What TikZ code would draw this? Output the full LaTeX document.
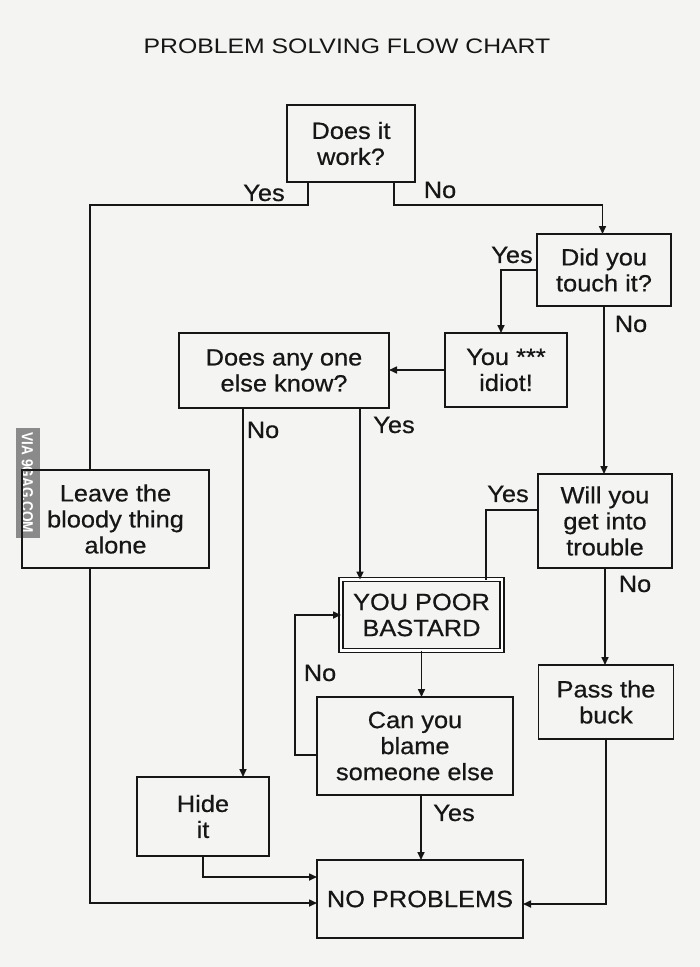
\documentclass[tikz,border=0pt]{standalone}
\usepackage{fontspec}
\usepackage{graphicx}
\setmainfont{Liberation Sans}
\newfontfamily\boxfont{Liberation Sans}[FakeStretch=1.08, FakeBold=0.6]
\usetikzlibrary{arrows.meta}
\definecolor{paper}{RGB}{244,244,242}
\definecolor{ink}{RGB}{22,22,22}
\definecolor{wmgray}{RGB}{138,138,138}
\begin{document}
\begin{tikzpicture}[x=1pt,y=-1pt,
  box/.style={draw=ink, line width=1.6pt, inner sep=0pt, outer sep=0pt, align=center, text=ink,
    font=\boxfont\fontsize{23.5}{26}\selectfont},
  lab/.style={font=\boxfont\fontsize{23.5}{26}\selectfont, inner sep=0pt, text=ink},
  conn/.style={draw=ink, line width=1.6pt},
  arr/.style={conn, -{Triangle[length=8pt,width=7pt]}},
]
\useasboundingbox[fill=paper] (0,0) rectangle (700,967);

% title
\node[text=ink, font=\fontsize{21}{24}\selectfont, inner sep=0pt] (title) at (347,46)
  {\scalebox{1.18}[1]{PROBLEM SOLVING FLOW CHART}};

% watermark
\node[fill=wmgray, minimum width=24pt, minimum height=110pt, inner sep=0pt] (wm) at (27.5,483) {};
\node[rotate=-90, text=white, font=\fontsize{16}{16}\selectfont\bfseries, inner sep=0pt] (wmtext) at (wm.center) {\scalebox{0.85}[1]{VIA 9GAG.COM}};

% boxes
\node[box, minimum width=128pt, minimum height=77pt] (work) at (351,143.5) {Does it\\work?};
\node[box, minimum width=134pt, minimum height=72pt] (touch) at (604,270) {Did you\\touch it?};
\node[box, minimum width=122pt, minimum height=74pt] (idiot) at (506,370) {You ***\\idiot!};
\node[box, minimum width=210pt, minimum height=75pt] (anyone) at (284,370.5) {Does any one\\else know?};
\node[box, minimum width=187pt, minimum height=98pt] (leave) at (115.5,519) {Leave the\\bloody thing\\alone};
\node[box, minimum width=134pt, minimum height=94pt] (trouble) at (605,521) {Will you\\get into\\trouble};
\node[box, double, double distance=2.6pt, line width=1.3pt, minimum width=161pt, minimum height=71pt] (poor) at (421.5,615) {YOU POOR\\BASTARD};
\node[box, minimum width=196pt, minimum height=98pt] (blame) at (415,746) {Can you\\blame\\someone else};
\node[box, minimum width=135pt, minimum height=74pt] (buck) at (606,702) {Pass the\\buck};
\node[box, minimum width=132pt, minimum height=79pt] (hide) at (203,816.5) {Hide\\it};
\node[box, minimum width=206pt, minimum height=78pt] (prob) at (420,899) {NO PROBLEMS};

% connectors
\coordinate (yesturn) at (90,205);
\draw[conn] ([xshift=-43pt]work.south) |- (yesturn) -- (leave.north -| yesturn);
\draw[arr] (leave.south -| yesturn) |- ([yshift=-4pt]prob.west);
\draw[arr] ([xshift=43pt]work.south) -- ++(0,23) -| ([xshift=-1.5pt]touch.north);
\draw[arr] (touch.west) -| ([xshift=-5pt]idiot.north);
\draw[arr] (touch.south) -- (touch.south |- trouble.north);
\draw[arr] (idiot.west) -- (idiot.west -| anyone.east);
\draw[arr] ([xshift=-41pt]anyone.south) -- ([xshift=40pt]hide.north);
\draw[arr] ([xshift=76pt]anyone.south) -- ([xshift=-61.5pt]poor.north);
\draw[conn] ([yshift=11pt]trouble.west) -| ([xshift=64.5pt]poor.north);
\draw[arr] (trouble.south) -- (trouble.south |- buck.north);
\draw[arr] (poor.south) -- (poor.south |- blame.north);
\draw[arr] ([yshift=-9pt]blame.west) -- ++(-22,0) |- (poor.west);
\draw[arr] ([xshift=6pt]blame.south) -- ([xshift=6pt]blame.south |- prob.north);
\draw[arr] (hide.south) |- ([yshift=22pt]prob.west);
\draw[arr] (buck.south) |- ([yshift=-5pt]prob.east);

% labels
\node[lab] (l1) at (264,193) {Yes};
\node[lab] (l2) at (440,190) {No};
\node[lab] (l3) at (512,255) {Yes};
\node[lab] (l4) at (631,324) {No};
\node[lab] (l5) at (263,430) {No};
\node[lab] (l6) at (394,425) {Yes};
\node[lab] (l7) at (508,494) {Yes};
\node[lab] (l8) at (635,584) {No};
\node[lab] (l9) at (320,673) {No};
\node[lab] (l10) at (454,813) {Yes};
\end{tikzpicture}
\end{document}
